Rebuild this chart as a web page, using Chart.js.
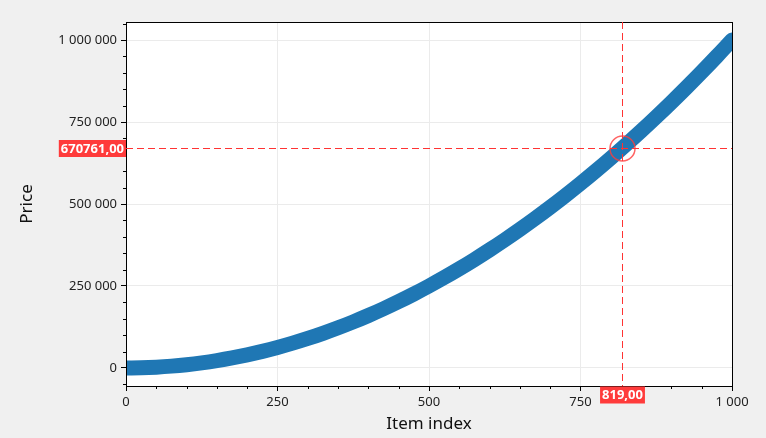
<!DOCTYPE html>
<html>
<head>
<meta charset="utf-8">
<script src="https://cdn.jsdelivr.net/npm/chart.js@4.4.1/dist/chart.umd.min.js"></script>
<style>
  html, body { margin: 0; padding: 0; background: #f0f0f0; }
  #wrap { width: 766px; height: 438px; }
</style>
</head>
<body>
<div id="wrap"><canvas id="chart" width="766" height="438"></canvas></div>
<script>
// Item index / price, every 25 items
const itemIndex = [0, 25, 50, 75, 100, 125, 150, 175, 200, 225, 250, 275, 300, 325, 350, 375, 400, 425, 450, 475, 500,
    525, 550, 575, 600, 625, 650, 675, 700, 725, 750, 775, 800, 825, 850, 875, 900, 925, 950, 975, 1000];
const prices = [0, 625, 2500, 5625, 10000, 15625, 22500, 30625, 40000, 50625, 62500, 75625, 90000, 105625, 122500,
    140625, 160000, 180625, 202500, 225625, 250000, 275625, 302500, 330625, 360000, 390625, 422500, 455625, 490000,
    525625, 562500, 600625, 640000, 680625, 722500, 765625, 810000, 855625, 902500, 950625, 1000000];

// Ticks
const xTicks = [0, 250, 500, 750, 1000];
const yTicks = [0, 250000, 500000, 750000, 1000000];
const xMinorTicks = [50, 100, 150, 200, 300, 350, 400, 450, 550, 600, 650, 700, 800, 850, 900, 950];
const yMinorTicks = [-50000, 50000, 100000, 150000, 200000, 300000, 350000, 400000, 450000, 550000, 600000,
    650000, 700000, 800000, 850000, 900000, 950000, 1050000];

// Crosshair position
const cursorIndex = 819;
const cursorPrice = 670761;

const FONT = '"Noto Sans", "DejaVu Sans", sans-serif';

function spaced(v) {
    return String(v).replace(/\B(?=(\d{3})+(?!\d))/g, ' ');
}

function fmt2(v) {
    return v.toFixed(2).replace('.', ',');
}

const decorPlugin = {
    id: 'decor',
    beforeDraw(chart) {
        const { ctx, chartArea: a } = chart;
        ctx.save();
        ctx.fillStyle = '#f0f0f0';
        ctx.fillRect(0, 0, chart.width, chart.height);
        ctx.fillStyle = '#ffffff';
        ctx.fillRect(a.left, a.top, a.right - a.left, a.bottom - a.top);
        ctx.restore();
    },
    afterDraw(chart) {
        const { ctx, chartArea: a, scales: { x, y } } = chart;
        ctx.save();

        // minor ticks
        ctx.strokeStyle = '#000';
        ctx.lineWidth = 1;
        ctx.beginPath();
        xMinorTicks.forEach(v => {
            const px = Math.round(x.getPixelForValue(v)) + 0.5;
            ctx.moveTo(px, a.bottom);
            ctx.lineTo(px, a.bottom + 3);
        });
        yMinorTicks.forEach(v => {
            const py = Math.round(y.getPixelForValue(v)) + 0.5;
            ctx.moveTo(a.left, py);
            ctx.lineTo(a.left - 3, py);
        });
        ctx.stroke();

        // frame
        ctx.strokeRect(Math.round(a.left) + 0.5, Math.round(a.top) + 0.5,
            Math.round(a.right - a.left), Math.round(a.bottom - a.top));

        // crosshair
        const cx = Math.round(x.getPixelForValue(cursorIndex)) + 0.5;
        const cy = Math.round(y.getPixelForValue(cursorPrice)) + 0.5;
        ctx.strokeStyle = '#ff3333';
        ctx.setLineDash([7, 4]);
        ctx.beginPath();
        ctx.moveTo(a.left, cy);
        ctx.lineTo(a.right, cy);
        ctx.moveTo(cx, a.top);
        ctx.lineTo(cx, a.bottom);
        ctx.stroke();
        ctx.setLineDash([]);

        ctx.strokeStyle = 'rgba(255, 60, 60, 0.8)';
        ctx.lineWidth = 1.5;
        ctx.beginPath();
        ctx.arc(cx, cy, 12.5, 0, Math.PI * 2);
        ctx.stroke();

        // labels on axes
        ctx.font = 'bold 13px ' + FONT;
        ctx.textBaseline = 'middle';
        ctx.textAlign = 'center';
        const yLab = fmt2(cursorPrice);
        const yw = ctx.measureText(yLab).width + 4;
        ctx.fillStyle = '#ff3b3b';
        ctx.fillRect(a.left - yw, cy - 8.5, yw, 17);
        ctx.fillStyle = '#ffffff';
        ctx.fillText(yLab, a.left - yw / 2, cy + 0.5);

        const xLab = fmt2(cursorIndex);
        const xw = ctx.measureText(xLab).width + 4;
        ctx.fillStyle = '#ff3b3b';
        ctx.fillRect(cx - xw / 2, a.bottom + 0.5, xw, 17);
        ctx.fillStyle = '#ffffff';
        ctx.fillText(xLab, cx, a.bottom + 9.5);

        ctx.restore();
    }
};

const ctx = document.getElementById('chart').getContext('2d');
new Chart(ctx, {
    type: 'line',
    data: {
        datasets: [{
            label: 'Price',
            data: itemIndex.map((v, i) => ({ x: v, y: prices[i] })),
            borderColor: '#1f77b4',
            borderWidth: 15,
            borderCapStyle: 'round',
            borderJoinStyle: 'round',
            pointRadius: 0,
            tension: 0.4,
            fill: false,
            clip: 0,
        }],
    },
    options: {
        responsive: false,
        animation: false,
        events: [],
        layout: { padding: { top: 22, right: 34, left: 0, bottom: 0 } },
        plugins: {
            legend: { display: false },
            tooltip: { enabled: false },
        },
        scales: {
            x: {
                type: 'linear',
                min: 0,
                max: 1000,
                afterBuildTicks: s => { s.ticks = xTicks.map(v => ({ value: v })); },
                afterFit: s => { s.height = 52; },
                grid: { color: '#ebebeb', tickColor: '#000', tickLength: 5 },
                border: { color: '#000' },
                ticks: {
                    color: '#222',
                    font: { family: FONT, size: 13 },
                    padding: 3,
                    maxRotation: 0,
                    callback: v => spaced(v),
                },
                title: {
                    display: true,
                    text: 'Item index',
                    color: '#111',
                    font: { family: FONT, size: 17 },
                    padding: { top: 0, bottom: 4 },
                },
            },
            y: {
                type: 'linear',
                min: -55000,
                max: 1055000,
                afterBuildTicks: s => { s.ticks = yTicks.map(v => ({ value: v })); },
                afterFit: s => { s.width = 126; },
                grid: { color: '#ebebeb', tickColor: '#000', tickLength: 5 },
                border: { color: '#000' },
                ticks: {
                    color: '#222',
                    font: { family: FONT, size: 13 },
                    padding: 4,
                    callback: v => spaced(v),
                },
                title: {
                    display: true,
                    text: 'Price',
                    color: '#111',
                    font: { family: FONT, size: 17 },
                    padding: { top: 17, bottom: 0 },
                },
            },
        },
    },
    plugins: [decorPlugin],
});
</script>
</body>
</html>
